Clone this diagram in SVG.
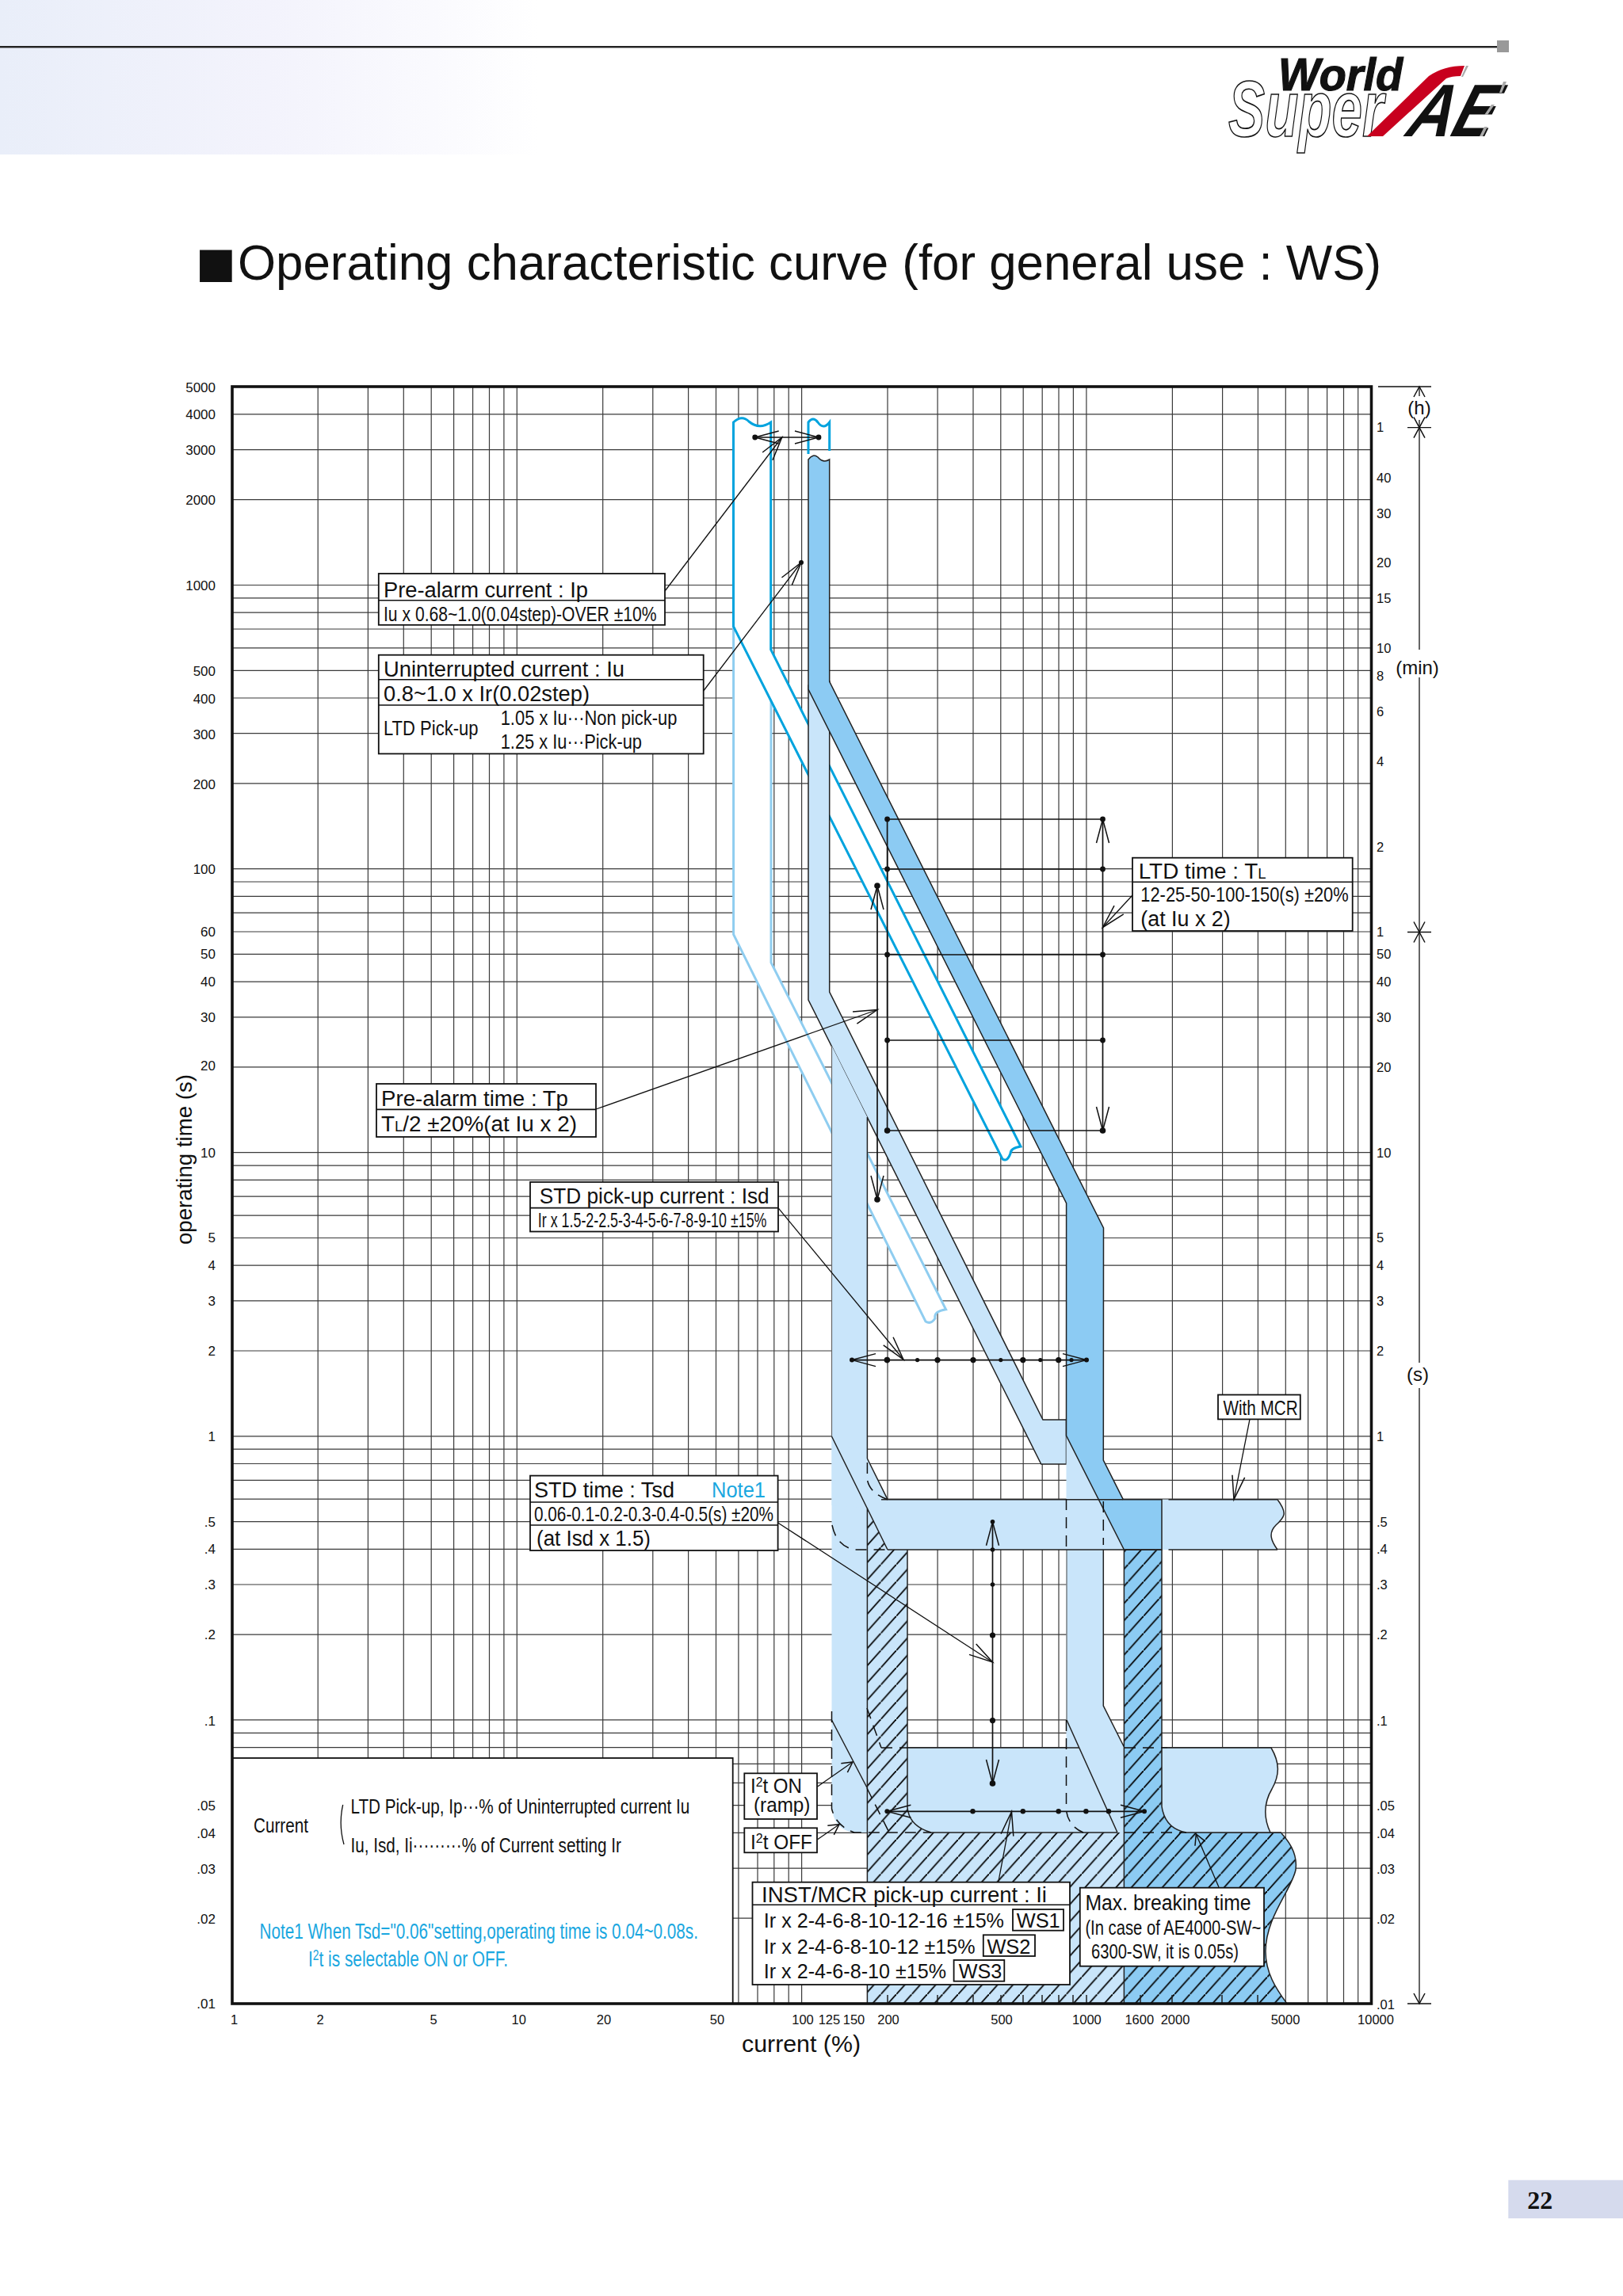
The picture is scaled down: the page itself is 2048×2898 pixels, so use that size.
<svg xmlns="http://www.w3.org/2000/svg" width="2048" height="2898" viewBox="0 0 2048 2898">
<style>
text{font-family:"Liberation Sans",Arial,sans-serif;fill:#111}
.c{text-anchor:middle}
.e{text-anchor:end}
.n{font-size:17px}
.r{font-size:16.5px}
.tt{font-size:27px}
.ts{font-size:26px}
.box{fill:#fff;stroke:#111;stroke-width:1.8}
.ln{fill:none;stroke:#111;stroke-width:1.6}
.th{fill:none;stroke:#222;stroke-width:1.5}
.gy{fill:none;stroke:#666;stroke-width:1.2}
.ds{fill:none;stroke:#111;stroke-width:1.5;stroke-dasharray:14 9}
.ld{fill:none;stroke:#111;stroke-width:1.3}
.dm{fill:none;stroke:#111;stroke-width:1.7}
.lb{fill:#c9e5fa}
.db{fill:#8ccbf3}
.ht{fill:url(#hatch)}
.cy{fill:#fff;stroke:#00a3de;stroke-width:3}
.lc{fill:#fff;stroke:#8fcdf0;stroke-width:3}
.d{fill:#111}
.blue{fill:#1aa7e0}
</style>
<defs>
<linearGradient id="hdr" x1="0" x2="1" y1="0" y2="0">
<stop offset="0" stop-color="#e9eef9"/><stop offset=".5" stop-color="#f3f3fc"/><stop offset=".8" stop-color="#fafafe"/><stop offset="1" stop-color="#fff"/>
</linearGradient>
<pattern id="hatch" patternUnits="userSpaceOnUse" width="19.5" height="21.7" x="0" y="0">
<path d="M-4,26.15 L23.5,-4.45" fill="none" stroke="#000" stroke-width="1.8"/>
</pattern>
<marker id="a" markerUnits="userSpaceOnUse" orient="auto-start-reverse" markerWidth="40" markerHeight="24" refX="34" refY="12" viewBox="0 0 40 24"><path d="M4,4 L34,12 L4,20" fill="none" stroke="#111" stroke-width="1.5"/></marker>
<marker id="b" markerUnits="userSpaceOnUse" orient="auto-start-reverse" markerWidth="24" markerHeight="20" refX="18" refY="10" viewBox="0 0 24 20"><path d="M5,3 L18,10 L5,17" fill="none" stroke="#111" stroke-width="1.5"/></marker>
</defs>
<rect width="2048" height="2898" fill="#fff"/>

<g id="header">
<rect x="0" y="0" width="680" height="195" fill="url(#hdr)"/>
<rect x="0" y="58" width="1890" height="2.4" fill="#222"/>
<rect x="1889" y="51" width="15" height="15" fill="#999"/>
</g>
<g id="logo">
<text x="1613" y="114" font-size="58" font-weight="bold" font-style="italic" textLength="157" lengthAdjust="spacingAndGlyphs" style="stroke:#111;stroke-width:1.2">World</text>
<text x="1550" y="172" font-size="100" font-weight="bold" font-style="italic" textLength="196" lengthAdjust="spacingAndGlyphs" style="fill:#fff;stroke:#111;stroke-width:1.7">Super</text>
<text transform="translate(1772,172) skewX(-18)" font-size="94" font-weight="bold" font-style="italic" textLength="108" lengthAdjust="spacingAndGlyphs">AE</text>
<path d="M1725,172 L1745,172 L1825,99 Q1832,96 1843,96 L1848,83 Q1822,83 1803,96 Z" fill="#c8001e"/>
<path d="M1850,83 L1853,83 L1846,97 L1844,97 Z M1897,103 L1901,103 L1895,117 L1892,117 Z M1882,132 L1886,132 L1877,145 L1873,145 Z M1873,160 L1877,160 L1871,172 L1867,172 Z" fill="#aaa"/>
</g>
<g id="title">
<text x="247" y="361" font-size="84" style="font-family:'Liberation Sans',sans-serif">■</text>
<text x="300" y="352.7" font-size="63" textLength="1443" lengthAdjust="spacingAndGlyphs">Operating characteristic curve (for general use : WS)</text>
</g>

<g id="grid" fill="none" stroke="#3a3a3a" stroke-width="1.2">
<path d="M401.2,488V2529M464.4,488V2529M509.3,488V2529M544.2,488V2529M572.6,488V2529M596.6,488V2529M617.5,488V2529M635.9,488V2529M652.3,488V2529M760.7,488V2529M823.8,488V2529M868.6,488V2529M903.5,488V2529M931.9,488V2529M956,488V2529M976.8,488V2529M995.2,488V2529M1011.6,488V2529M1120,488V2529M1183.1,488V2529M1228,488V2529M1262.8,488V2529M1291.2,488V2529M1315.2,488V2529M1336,488V2529M1354.4,488V2529M1370.9,488V2529M1479.4,488V2529M1542.6,488V2529M1587.4,488V2529M1622.3,488V2529M1650.6,488V2529M1674.6,488V2529M1695.5,488V2529M1713.7,488V2529"/>
<path d="M293,2421.2H1730M293,2358.1H1730M293,2313.4H1730M293,2278.7H1730M293,2250.3H1730M293,2226.4H1730M293,2205.6H1730M293,2187.3H1730M293,2170.9H1730M293,2063.1H1730M293,2000H1730M293,1955.3H1730M293,1920.6H1730M293,1892.2H1730M293,1868.3H1730M293,1847.5H1730M293,1829.2H1730M293,1812.8H1730M293,1705H1730M293,1641.9H1730M293,1597.2H1730M293,1562.5H1730M293,1534.1H1730M293,1510.2H1730M293,1489.4H1730M293,1471.1H1730M293,1454.7H1730M293,1346.9H1730M293,1283.8H1730M293,1239.1H1730M293,1204.4H1730M293,1176H1730M293,1152.1H1730M293,1131.3H1730M293,1113H1730M293,1096.6H1730M293,988.8H1730M293,925.7H1730M293,881H1730M293,846.3H1730M293,817.9H1730M293,794H1730M293,773.2H1730M293,754.9H1730M293,738.5H1730M293,630.7H1730M293,567.6H1730M293,522.9H1730"/>
</g>

<g id="legend">
<rect class="box" x="293" y="2219" width="631.7" height="310"/>
<text x="320" y="2312.7" font-size="26" textLength="69" lengthAdjust="spacingAndGlyphs">Current</text>
<path class="ld" d="M432.7,2278 Q427,2303 434,2328"/>
<text x="442.4" y="2289" font-size="26" textLength="428" lengthAdjust="spacingAndGlyphs">LTD Pick-up, Ip···% of Uninterrupted current Iu</text>
<text x="442.4" y="2338" font-size="26" textLength="341.6" lengthAdjust="spacingAndGlyphs">Iu, Isd, Ii·········% of Current setting Ir</text>
<text class="blue" x="327.5" y="2447.3" font-size="27" textLength="553.5" lengthAdjust="spacingAndGlyphs">Note1 When Tsd="0.06"setting,operating time is 0.04~0.08s.</text>
<text class="blue" x="389" y="2481.7" font-size="27" textLength="252" lengthAdjust="spacingAndGlyphs">I<tspan dy="-8" font-size="18">2</tspan><tspan dy="8">t is selectable ON or OFF.</tspan></text>
</g>

<g id="bands">
<path id="prealarm-light" class="lc" d="M925.6,790 L925.6,1179.5 L1168,1668 Q1175,1672 1180,1664 Q1178,1655 1193.6,1652.7 L973,1215 L973,820 Z"/>
<path id="prealarm-main" class="cy" d="M925.5,533 Q936,523 945,532 Q958,543 972.7,533 L972.7,820 L1288,1447 Q1275,1449 1275,1456 Q1271,1467 1265,1463 L925.5,790.7 Z"/>
<path class="cy" style="fill:none" d="M1020,573 L1020,533 Q1026,525 1032,533 Q1039,543 1046.7,533 L1046.7,569"/>

<path id="ltd-min" class="lb th" style="fill:#c9e5fa" d="M1020,865 L1046.7,860 L1046.7,1252 L1316,1792 L1345.5,1792 L1345.5,1848 L1313.8,1848 L1020,1262 Z"/>
<path id="std-col" class="lb" d="M1049.5,1320 L1094.4,1410 L1094.4,2313 L1078,2313 Q1052,2310 1049.5,2280 Z"/>
<path class="lb" d="M1049.5,1813 L1094.4,1841 L1120,1892.7 L1612,1892.7 C1625,1910 1621,1915 1610,1925 C1600,1935 1604,1945 1612,1956 L1120,1956 L1094.4,1903 L1049.5,1900 Z"/>
<path id="inst-col" class="lb" d="M1345.5,1812 L1392.3,1843 L1392.3,2153 L1418.4,2205 L1418.4,2313 L1345.5,2313 Z"/>
<path id="mcr-left" class="lb" d="M1094.4,1903 L1120,1956 L1145,1956 L1145,2206 L1419,2206 L1419,2529 L1094.4,2529 Z"/>
<path id="mcr-right" class="lb" d="M1466,2206 L1604,2206 C1615,2225 1615,2240 1605,2258 C1592,2280 1597,2300 1603,2313 L1466,2313 Z"/>
<path class="ht" d="M1094.4,1903 L1120,1956 L1145,1956 L1145,2281 Q1147,2305 1175,2313 L1419,2313 L1419,2529 L1094.4,2529 Z"/>

<path id="breaking" class="db" d="M1418.4,1956 L1466,1956 L1466,2280 Q1470,2308 1497,2313 L1617,2314 C1632,2330 1637,2345 1635,2360 C1630,2385 1597,2420 1597,2463 C1597,2490 1610,2510 1624,2529 L1419,2529 Z"/>
<path class="ht" d="M1418.4,1956 L1466,1956 L1466,2280 Q1470,2308 1497,2313 L1617,2314 C1632,2330 1637,2345 1635,2360 C1630,2385 1597,2420 1597,2463 C1597,2490 1610,2510 1624,2529 L1419,2529 Z"/>
<path class="th" d="M1617,2314 C1632,2330 1637,2345 1635,2360 C1630,2385 1597,2420 1597,2463 C1597,2490 1610,2510 1624,2529"/>
<path id="ltd-max" class="db th" style="fill:#8ccbf3" d="M1020,580 Q1026,572 1032,577 Q1039,585 1046.7,580 L1046.7,860.4 L1392.5,1550 L1392.3,1843 L1417.3,1892.7 L1466,1892.7 L1466,1956 L1418.4,1956 L1345.5,1812 L1345.6,1518.7 L1020,870 Z"/>

<path class="gy" d="M1049.5,1320 V1813 M1346,1956 V2171"/>
<path class="th" d="M1049.5,1813 L1120,1956 M1094.4,1410 V1841 M1094.4,1841 L1120,1892.7 M1094.4,1903 V2529 M1049.5,2171 L1094.4,2257 M1346,2171 L1410,2313 M1392.3,1956 V2153 L1418.4,2205 M1418.4,1956 V2529 M1466,1956 V2280 Q1470,2308 1497,2313 M1145,1956 V2281 Q1147,2305 1175,2313 M1112,1892.7 H1417 M1474.5,1892.7 H1612 M1120,1956 H1466 M1474.5,1956 H1612 M1145,2206 H1362 M1473,2206 H1604 M1175,2313 H1410 M1497,2313 H1617 M1612,1892.7 C1625,1910 1621,1915 1610,1925 C1600,1935 1604,1945 1612,1956 M1604,2206 C1615,2225 1615,2240 1605,2258 C1592,2280 1597,2300 1603,2313"/>
<path class="ds" d="M1094.4,1846 V1868 Q1098,1885 1120,1892.7 M1050,1925 Q1055,1950 1077,1956 L1120,1956 M1049.5,2160 V2283 Q1055,2305 1078,2313 L1175,2313 M1112,2206 H1145 M1345.5,1892 V1956 M1392.3,1895 V1950 M1345.5,2171 V2285 Q1348,2305 1367,2313 M1419,2206 H1473 M1419,2313 H1497 M1094,2156 L1112,2206 M1094,2257 L1122,2313"/>
<path class="th" d="M1120,2518V2529M1183,2518V2529M1228,2518V2529M1263,2518V2529M1291,2518V2529M1315,2518V2529M1336,2518V2529M1354,2518V2529M1371,2518V2529M1439,2518V2529M1479,2518V2529M1542,2518V2529M1587,2518V2529"/>
</g>

<rect id="frame" x="293" y="488" width="1437.5" height="2041" fill="none" stroke="#111" stroke-width="3.6"/>

<g id="axis-labels">
<g class="n e">
<text x="272" y="495">5000</text><text x="272" y="529">4000</text><text x="272" y="574">3000</text><text x="272" y="637">2000</text><text x="272" y="745">1000</text><text x="272" y="853">500</text><text x="272" y="888">400</text><text x="272" y="933">300</text><text x="272" y="996">200</text><text x="272" y="1103">100</text><text x="272" y="1182">60</text><text x="272" y="1210">50</text><text x="272" y="1245">40</text><text x="272" y="1290">30</text><text x="272" y="1351">20</text><text x="272" y="1461">10</text><text x="272" y="1568">5</text><text x="272" y="1603">4</text><text x="272" y="1648">3</text><text x="272" y="1711">2</text><text x="272" y="1819">1</text><text x="272" y="1927">.5</text><text x="272" y="1961">.4</text><text x="272" y="2006">.3</text><text x="272" y="2069">.2</text><text x="272" y="2178">.1</text><text x="272" y="2285">.05</text><text x="272" y="2320">.04</text><text x="272" y="2365">.03</text><text x="272" y="2428">.02</text><text x="272" y="2535">.01</text>
</g>
<g class="r">
<text x="1737" y="545">1</text><text x="1737" y="609">40</text><text x="1737" y="654">30</text><text x="1737" y="716">20</text><text x="1737" y="761">15</text><text x="1737" y="824">10</text><text x="1737" y="859">8</text><text x="1737" y="904">6</text><text x="1737" y="967">4</text><text x="1737" y="1075">2</text><text x="1737" y="1182">1</text><text x="1737" y="1210">50</text><text x="1737" y="1245">40</text><text x="1737" y="1290">30</text><text x="1737" y="1353">20</text><text x="1737" y="1461">10</text><text x="1737" y="1568">5</text><text x="1737" y="1603">4</text><text x="1737" y="1648">3</text><text x="1737" y="1711">2</text><text x="1737" y="1819">1</text><text x="1737" y="1927">.5</text><text x="1737" y="1961">.4</text><text x="1737" y="2006">.3</text><text x="1737" y="2069">.2</text><text x="1737" y="2178">.1</text><text x="1737" y="2285">.05</text><text x="1737" y="2320">.04</text><text x="1737" y="2365">.03</text><text x="1737" y="2428">.02</text><text x="1737" y="2536">.01</text>
</g>
<g class="r c">
<text x="295.5" y="2555">1</text><text x="404" y="2555">2</text><text x="547" y="2555">5</text><text x="654.7" y="2555">10</text><text x="762" y="2555">20</text><text x="905" y="2555">50</text><text x="1013" y="2555">100</text><text x="1046.4" y="2555">125</text><text x="1077.5" y="2555">150</text><text x="1121" y="2555">200</text><text x="1264" y="2555">500</text><text x="1371.4" y="2555">1000</text><text x="1437.8" y="2555">1600</text><text x="1483" y="2555">2000</text><text x="1622" y="2555">5000</text><text x="1736" y="2555">10000</text>
</g>
<text x="936" y="2590" font-size="30" textLength="150" lengthAdjust="spacingAndGlyphs">current (%)</text>
<text transform="translate(242,1571) rotate(-90)" font-size="28" textLength="215" lengthAdjust="spacingAndGlyphs">operating time (s)</text>
<text class="c" x="1791" y="523" font-size="24">(h)</text>
<text class="c" x="1788.5" y="850.5" font-size="24">(min)</text>
<text class="c" x="1789" y="1743" font-size="24">(s)</text>
</g>

<g id="connectors">
<path class="ld" d="M1739,488H1806M1776,539.7H1806M1776,1176.5H1806M1776,2529H1806"/>
<path class="ld" marker-end="url(#b)" d="M1791,500V488"/>
<path class="ld" marker-end="url(#b)" d="M1791,530V539.7"/>
<path class="ld" marker-start="url(#b)" d="M1791,539.7V820"/>
<path class="ld" marker-end="url(#b)" d="M1791,855V1176.5"/>
<path class="ld" marker-start="url(#b)" d="M1791,1176.5V1720"/>
<path class="ld" marker-end="url(#b)" d="M1791,1752V2529"/>

<path class="dm" marker-start="url(#a)" marker-end="url(#a)" d="M952.7,552H1033"/>
<circle class="d" cx="952.7" cy="552" r="3.4"/><circle class="d" cx="1033" cy="552" r="3.4"/>
<path class="ld" marker-end="url(#a)" d="M839,746L986.7,552"/>
<path class="ld" marker-end="url(#a)" d="M887.7,872L1011,710"/>
<circle class="d" cx="1011" cy="710" r="3"/>

<path class="dm" d="M1119.6,1034V1427M1119.6,1034H1391.5M1119.6,1097H1391.5M1119.6,1205H1391.5M1119.6,1313H1391.5M1119.6,1427H1391.5"/>
<path class="dm" marker-start="url(#a)" marker-end="url(#a)" d="M1391.5,1034V1427"/>
<g class="d"><circle cx="1119.6" cy="1034" r="3.4"/><circle cx="1391.5" cy="1034" r="3.4"/><circle cx="1119.6" cy="1097" r="3.4"/><circle cx="1391.5" cy="1097" r="3.4"/><circle cx="1119.6" cy="1205" r="3.4"/><circle cx="1391.5" cy="1205" r="3.4"/><circle cx="1119.6" cy="1313" r="3.4"/><circle cx="1391.5" cy="1313" r="3.4"/><circle cx="1119.6" cy="1427" r="3.8"/><circle cx="1391.5" cy="1427" r="3.8"/></g>
<path class="ld" marker-end="url(#a)" d="M1429,1130L1391.5,1170.5"/>

<path class="dm" marker-start="url(#a)" marker-end="url(#a)" d="M1107,1118V1514"/>
<circle class="d" cx="1107" cy="1118" r="3.8"/><circle class="d" cx="1107" cy="1514" r="3.8"/>
<path class="ld" marker-end="url(#a)" d="M752,1400L1107,1274.5"/>

<path class="dm" marker-start="url(#a)" marker-end="url(#a)" d="M1075,1716.6H1371"/>
<g class="d"><circle cx="1075" cy="1716.6" r="3"/><circle cx="1119.4" cy="1716.6" r="3.8"/><circle cx="1157.6" cy="1716.6" r="2.6"/><circle cx="1183" cy="1716.6" r="3.6"/><circle cx="1228" cy="1716.6" r="3.6"/><circle cx="1262.8" cy="1716.6" r="2.6"/><circle cx="1290.8" cy="1716.6" r="3.6"/><circle cx="1312.8" cy="1716.6" r="2.6"/><circle cx="1335.7" cy="1716.6" r="3.6"/><circle cx="1352" cy="1716.6" r="2.6"/><circle cx="1371" cy="1716.6" r="3"/></g>
<path class="ld" marker-end="url(#a)" d="M982,1524.6L1140,1716"/>

<path class="dm" marker-start="url(#a)" marker-end="url(#a)" d="M1252.5,1920.8V2251"/>
<g class="d"><circle cx="1252.5" cy="1920.8" r="2.8"/><circle cx="1252.5" cy="1956" r="2.8"/><circle cx="1252.5" cy="2000" r="2.8"/><circle cx="1252.5" cy="2064" r="3.6"/><circle cx="1252.5" cy="2171.6" r="3.6"/><circle cx="1252.5" cy="2251" r="3.8"/></g>
<path class="ld" marker-end="url(#a)" d="M981.6,1922L1252.5,2098"/>

<path class="dm" marker-start="url(#a)" marker-end="url(#a)" d="M1119.4,2286.3H1444"/>
<g class="d"><circle cx="1119.4" cy="2286.3" r="3"/><circle cx="1227.5" cy="2286.3" r="3.2"/><circle cx="1290.8" cy="2286.3" r="3.2"/><circle cx="1335.7" cy="2286.3" r="3.2"/><circle cx="1370.4" cy="2286.3" r="3.2"/><circle cx="1399" cy="2286.3" r="3.2"/><circle cx="1444" cy="2286.3" r="3"/></g>
<path class="ld" marker-end="url(#a)" d="M1259.7,2376L1276.5,2286.7"/>
<path class="ld" marker-end="url(#b)" d="M1031.6,2255L1076,2224"/>
<path class="ld" marker-end="url(#b)" d="M1031.6,2321.7L1059,2302.7"/>
<path class="ld" marker-end="url(#b)" d="M1538,2382L1509.3,2315"/>
<path class="ld" marker-end="url(#a)" d="M1577,1791.4L1557,1892.7"/>
</g>

<g id="node-prealarm-current">
<rect class="box" x="477.8" y="724" width="361.2" height="64.8"/><path class="ln" d="M477.8,757.8H839"/>
<text class="tt" x="484" y="753.5" textLength="258" lengthAdjust="spacingAndGlyphs">Pre-alarm current : Ip</text>
<text class="ts" x="484" y="784" textLength="344.6" lengthAdjust="spacingAndGlyphs">Iu x 0.68~1.0(0.04step)-OVER ±10%</text>
</g>
<g id="node-uninterrupted">
<rect class="box" x="477.8" y="826.7" width="409.9" height="124.7"/><path class="ln" d="M477.8,857.7H887.7M477.8,890H887.7"/>
<text class="tt" x="484" y="853.5" textLength="304" lengthAdjust="spacingAndGlyphs">Uninterrupted current : Iu</text>
<text class="tt" x="484" y="885" textLength="260" lengthAdjust="spacingAndGlyphs">0.8~1.0 x Ir(0.02step)</text>
<text class="ts" x="484" y="928" textLength="119.5" lengthAdjust="spacingAndGlyphs">LTD Pick-up</text>
<text class="ts" x="631.7" y="914.7" textLength="222.7" lengthAdjust="spacingAndGlyphs">1.05 x Iu···Non pick-up</text>
<text class="ts" x="631.7" y="945.3" textLength="178.3" lengthAdjust="spacingAndGlyphs">1.25 x Iu···Pick-up</text>
</g>
<g id="node-ltd-time">
<rect class="box" x="1429" y="1082.7" width="277.7" height="92.3"/><path class="ln" d="M1429,1113.3H1706.7"/>
<text class="tt" x="1436.7" y="1109.3" textLength="161" lengthAdjust="spacingAndGlyphs">LTD time : T<tspan font-size="18">L</tspan></text>
<text class="ts" x="1439.3" y="1138.3" textLength="262.4" lengthAdjust="spacingAndGlyphs">12-25-50-100-150(s) ±20%</text>
<text class="tt" x="1439.3" y="1169.3" textLength="113.4" lengthAdjust="spacingAndGlyphs">(at Iu x 2)</text>
</g>
<g id="node-prealarm-time">
<rect class="box" x="475" y="1368" width="277" height="67"/><path class="ln" d="M475,1400.4H752"/>
<text class="tt" x="481" y="1396" textLength="236" lengthAdjust="spacingAndGlyphs">Pre-alarm time : Tp</text>
<text class="tt" x="481" y="1428" textLength="247" lengthAdjust="spacingAndGlyphs">T<tspan font-size="18">L</tspan>/2 ±20%(at Iu x 2)</text>
</g>
<g id="node-std-pickup">
<rect class="box" x="669" y="1492" width="313" height="62.5"/><path class="ln" d="M669,1524.6H982"/>
<text class="tt" x="680.8" y="1519" textLength="289.8" lengthAdjust="spacingAndGlyphs">STD pick-up current : Isd</text>
<text class="ts" x="678.8" y="1548.7" textLength="288.7" lengthAdjust="spacingAndGlyphs">Ir x 1.5-2-2.5-3-4-5-6-7-8-9-10 ±15%</text>
</g>
<g id="node-std-time">
<rect class="box" x="669" y="1862.6" width="312.6" height="94.4"/><path class="ln" d="M669,1896H981.6M669,1925H981.6"/>
<text class="tt" x="674" y="1890" textLength="177" lengthAdjust="spacingAndGlyphs">STD time : Tsd</text>
<text class="tt blue" x="898" y="1890" textLength="68" lengthAdjust="spacingAndGlyphs">Note1</text>
<text class="ts" x="674" y="1920" textLength="302" lengthAdjust="spacingAndGlyphs">0.06-0.1-0.2-0.3-0.4-0.5(s) ±20%</text>
<text class="tt" x="677" y="1951" textLength="144" lengthAdjust="spacingAndGlyphs">(at Isd x 1.5)</text>
</g>
<g id="node-with-mcr">
<rect class="box" x="1537" y="1760.5" width="103.8" height="30.9"/>
<text class="ts" x="1543.4" y="1786" textLength="94.4" lengthAdjust="spacingAndGlyphs">With MCR</text>
</g>
<g id="node-i2t-on">
<rect class="box" x="939.3" y="2238.3" width="91.7" height="57.7"/>
<text class="ts" x="947" y="2263.3" textLength="65" lengthAdjust="spacingAndGlyphs">I<tspan dy="-8" font-size="17">2</tspan><tspan dy="8">t ON</tspan></text>
<text class="ts" x="951" y="2286.7" textLength="71.4" lengthAdjust="spacingAndGlyphs">(ramp)</text>
</g>
<g id="node-i2t-off">
<rect class="box" x="939.3" y="2307.3" width="91.7" height="31"/>
<text class="ts" x="947" y="2334" textLength="78" lengthAdjust="spacingAndGlyphs">I<tspan dy="-8" font-size="17">2</tspan><tspan dy="8">t OFF</tspan></text>
</g>
<g id="node-inst">
<rect class="box" x="949.5" y="2375.7" width="400.5" height="129.3"/><path class="ln" d="M949.5,2404.3H1350"/>
<text class="tt" x="961" y="2400.7" textLength="360" lengthAdjust="spacingAndGlyphs">INST/MCR pick-up current : Ii</text>
<text class="ts" x="963.8" y="2433.3" textLength="303.2" lengthAdjust="spacingAndGlyphs">Ir x 2-4-6-8-10-12-16 ±15%</text>
<rect class="box" x="1278" y="2410" width="64" height="26.7"/>
<text class="ts" x="1282.7" y="2433.3" textLength="55" lengthAdjust="spacingAndGlyphs">WS1</text>
<text class="ts" x="963.8" y="2465.7" textLength="266.8" lengthAdjust="spacingAndGlyphs">Ir x 2-4-6-8-10-12 ±15%</text>
<rect class="box" x="1240.8" y="2442.3" width="65.2" height="26.7"/>
<text class="ts" x="1245.4" y="2465.7" textLength="55" lengthAdjust="spacingAndGlyphs">WS2</text>
<text class="ts" x="963.8" y="2497.3" textLength="230.2" lengthAdjust="spacingAndGlyphs">Ir x 2-4-6-8-10 ±15%</text>
<rect class="box" x="1203.6" y="2474" width="63.7" height="26.7"/>
<text class="ts" x="1209.7" y="2497.3" textLength="54.6" lengthAdjust="spacingAndGlyphs">WS3</text>
</g>
<g id="node-max-breaking">
<rect class="box" x="1362.8" y="2382.7" width="232.2" height="99"/>
<text class="tt" x="1369.4" y="2410.7" textLength="209.2" lengthAdjust="spacingAndGlyphs">Max. breaking time</text>
<text class="ts" x="1369.4" y="2441.7" textLength="221.9" lengthAdjust="spacingAndGlyphs">(In case of AE4000-SW~</text>
<text class="ts" x="1377" y="2471.7" textLength="186" lengthAdjust="spacingAndGlyphs">6300-SW, it is 0.05s)</text>
</g>

<g id="footer">
<rect x="1903.3" y="2751.7" width="144.7" height="48.3" fill="#d5daed"/>
<text x="1927.3" y="2788.3" font-size="32" font-weight="bold" style="font-family:'Liberation Serif',serif">22</text>
</g>
</svg>
